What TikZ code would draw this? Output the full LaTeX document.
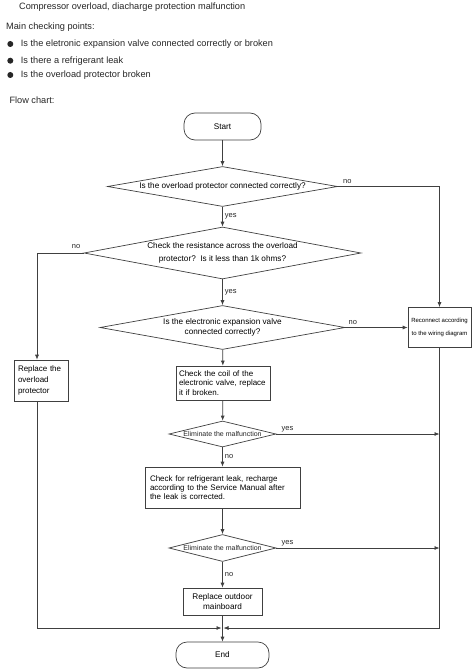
\documentclass[tikz,border=0pt]{standalone}
\usepackage{fontspec}
\setmainfont{Liberation Sans}
\usetikzlibrary{shapes.geometric,arrows.meta}
\begin{document}
\begin{tikzpicture}[x=1pt,y=-1pt,
  line/.style={draw=black!75, line width=0.7pt},
  arr/.style={line, -{Latex[length=5pt,width=4pt]}},
  term/.style={rectangle, draw=black!75, line width=0.7pt, rounded corners=11pt, inner sep=0pt, font=\fontsize{8.2}{10}\selectfont},
  dia/.style={diamond, draw=black!75, line width=0.7pt, inner sep=0pt, align=center, font=\fontsize{8.2}{10}\selectfont},
  box/.style={rectangle, draw=black!75, line width=0.7pt, inner ysep=0pt, font=\fontsize{8}{9.3}\selectfont},
  lbl/.style={font=\fontsize{7.5}{9}\selectfont, inner sep=0pt, text=black!85},
  hdr/.style={anchor=west, inner sep=0pt, font=\fontsize{9.2}{11}\selectfont, text=black!85},
  bullet/.style={circle, fill=black!85, inner sep=0pt, minimum size=6pt}
]
\useasboundingbox[fill=white] (0,0) rectangle (474,671);

% header
\node[hdr] (title) at (19,7.3) {Compressor overload, diacharge protection malfunction};
\node[hdr] (mcp) at (6,26.7) {Main checking points:};
\node[bullet] (b1) at (10.3,44) {};
\node[bullet] (b2) at (10.3,60.7) {};
\node[bullet] (b3) at (10.3,75) {};
\node[hdr] (t1) at (20.7,44) {Is the eletronic expansion valve connected correctly or broken};
\node[hdr] (t2) at (20.7,60.7) {Is there a refrigerant leak};
\node[hdr] (t3) at (20.7,75) {Is the overload protector broken};
\node[hdr] (fc) at (9.3,100.7) {Flow chart:};

% flow nodes
\node[term, minimum width=77, minimum height=27] (start) at (222.5,126.5) {Start};
\node[dia, aspect=5.75, minimum width=230, minimum height=40] (d1) at (222.5,186.5) {Is the overload protector connected correctly?};
\node[dia, aspect=5.33, minimum width=277, minimum height=52, font=\fontsize{8.2}{13}\selectfont] (d2) at (222.5,253) {Check the resistance across the overload\\protector?\ \ Is it less than 1k ohms?};
\node[dia, aspect=5.57, minimum width=245, minimum height=44, font=\fontsize{8.2}{9.7}\selectfont] (d3) at (222.5,327.5) {Is the electronic expansion valve\\connected correctly?};
\node[box, text width=88, inner xsep=3, minimum height=34, align=left] (coil) at (223,383) {Check the coil of the\\electronic valve, replace\\it if broken.};
\node[dia, aspect=4, minimum width=107, minimum height=26, label={[font=\fontsize{7}{8}\selectfont, inner sep=0pt, text=black!85]center:Eliminate the malfunction}] (d4) at (222.5,434) {};
\node[box, text width=145, inner xsep=5, minimum height=41, align=left] (leak) at (222.5,487.5) {Check for refrigerant leak, recharge\\according to the Service Manual after\\the leak is corrected.};
\node[dia, aspect=4, minimum width=107, minimum height=27, label={[font=\fontsize{7}{8}\selectfont, inner sep=0pt, text=black!85]center:Eliminate the malfunction}] (d5) at (222.5,548) {};
\node[box, minimum width=79, minimum height=27, align=center, font=\fontsize{8.2}{10.6}\selectfont] (mb) at (222.5,601.5) {Replace outdoor\\mainboard};
\node[term, minimum width=93, minimum height=26] (end) at (222.5,655) {End};
\node[box, text width=46, inner xsep=4, minimum height=41, align=left, font=\fontsize{8}{11.3}\selectfont] (ro) at (41,380.5) {Replace the\\overload\\protector};
\node[box, minimum width=63, minimum height=40, inner xsep=1, align=center, font=\fontsize{6}{12.3}\selectfont] (rc) at (439.5,327.5) {Reconnect according\\to the wiring diagram};

\coordinate (lc) at (37,628);
\coordinate (jn) at (222.5,628);

% connectors
\draw[arr] (start) -- (d1);
\draw[arr] (d1) -- node[lbl, anchor=west, xshift=2pt] (y1) {yes} (d2);
\draw[arr] (d2) -- node[lbl, anchor=west, xshift=2pt] (y2) {yes} (d3);
\draw[arr] (d3) -- (coil);
\draw[arr] (coil) -- (d4);
\draw[arr] (d4) -- node[lbl, anchor=west, xshift=2pt] (n4) {no} (leak);
\draw[arr] (leak) -- (d5);
\draw[arr] (d5) -- node[lbl, anchor=west, xshift=2pt] (n5) {no} (mb);
\draw[arr] (mb) -- (end);

\draw[arr] (d1.east) -| node[lbl, anchor=south west, pos=0, xshift=5pt, yshift=3pt] (n1) {no} (rc.north);
\draw[arr] (d2.west) -| node[lbl, anchor=south east, pos=0, xshift=-3pt, yshift=4pt] (n2) {no} (ro.north -| lc);
\draw[arr] (d3.east) -- node[lbl, anchor=south west, pos=0, xshift=3pt, yshift=3pt] (n3) {no} (rc.west);
\draw[arr] (d4.east) -- node[lbl, anchor=south west, pos=0, xshift=5pt, yshift=2pt] (y4) {yes} (d4.east -| rc.south);
\draw[arr] (d5.east) -- node[lbl, anchor=south west, pos=0, xshift=5pt, yshift=2pt] (y5) {yes} (d5.east -| rc.south);

\draw[arr, shorten >=1pt] (rc.south) |- (jn);
\draw[arr, shorten >=1pt] (ro.south -| lc) |- (jn);
\end{tikzpicture}
\end{document}
